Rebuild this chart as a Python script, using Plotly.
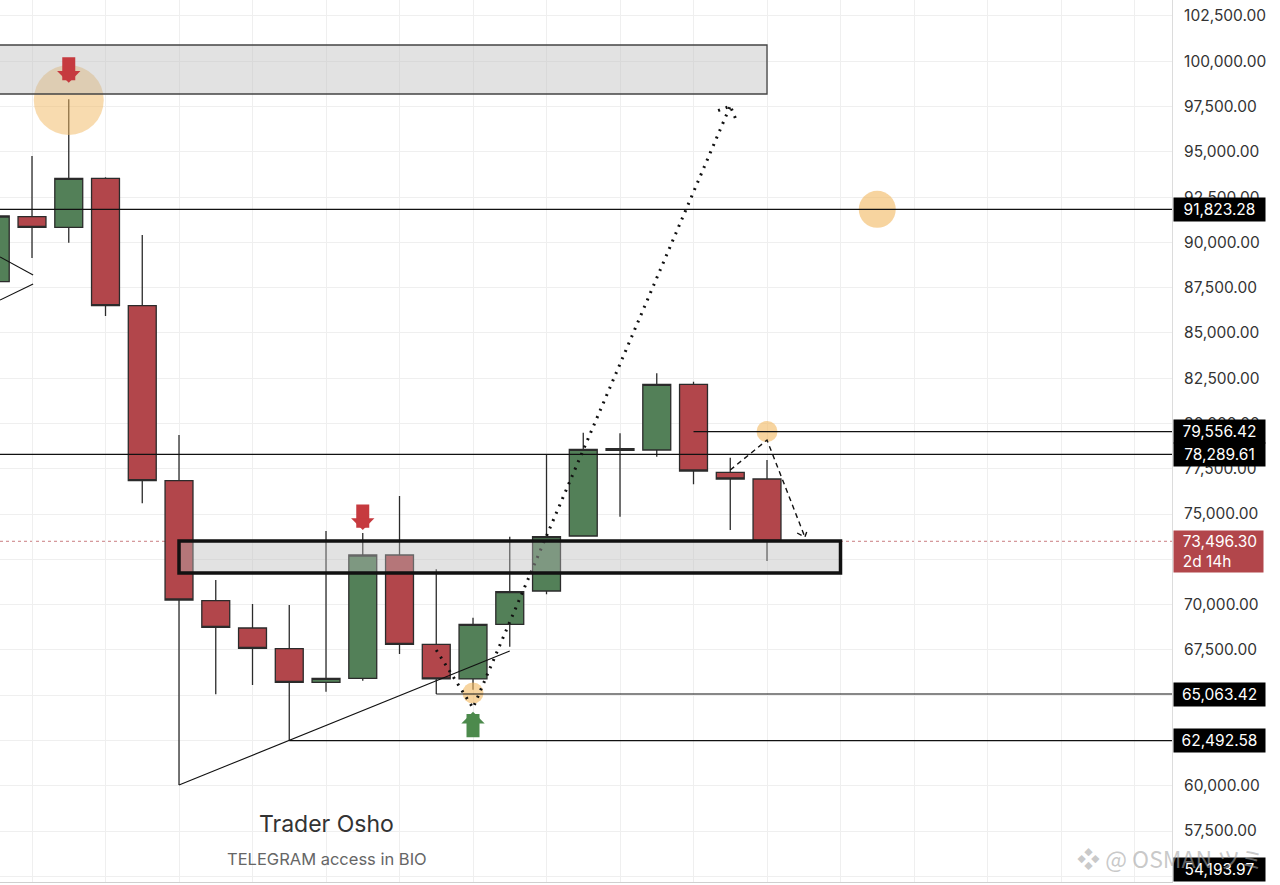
import pandas as pd
import plotly.graph_objects as go


# weekly candles (week start dates)
week_start = [
    "2025-12-29", "2026-01-05", "2026-01-12", "2026-01-19", "2026-01-26",
    "2026-02-02", "2026-02-09", "2026-02-16", "2026-02-23", "2026-03-02",
    "2026-03-09", "2026-03-16", "2026-03-23", "2026-03-30", "2026-04-06",
    "2026-04-13", "2026-04-20", "2026-04-27", "2026-05-04", "2026-05-11",
    "2026-05-18", "2026-05-25",
]
opens = [87829, 91418, 90833, 93538, 86504, 76841, 70216, 68708, 67566, 65710, 65931,
         72739, 67808, 65896, 68913, 70751, 73788, 78610, 78537, 82164, 77305, 76935]
highs = [91700, 94770, 97900, 93600, 90408, 79365, 71359, 70034, 69978, 74064, 73954,
         75997, 71949, 69277, 73750, 78299, 79492, 79458, 82771, 82307, 78111, 77985]
lows = [87600, 89138, 89983, 85935, 75593, 60040, 65047, 65561, 62492.58, 65191, 65799,
        67273, 65063.42, 65300, 67676, 70569, 73780, 74854, 78167, 76642, 74119, 72408]
closes = [91457, 90833, 93538, 86504, 76841, 70254, 68747, 67587, 65710, 65931, 72739,
          67808, 65896, 68913, 70713, 73750, 78575, 78520, 82164, 77377, 76935, 73496.30]

# marked price levels: (price, first week offset of the line or None for full width)
level_prices = [91823.28, 79556.42, 78289.61, 65063.42, 62492.58]
level_start_weeks = [None, 19, None, 12, 8]
last_price = 73496.30
last_price_note = "2d 14h"
bottom_price = 54193.97

# supply zone (top) and demand zone (middle)
top_zone_weeks = [-1, 21]
top_zone_prices = [98193, 100899]
mid_zone_weeks = [5, 23]
mid_zone_prices = [71745, 73512]

# trend / wedge lines: week offsets and prices
trend_weeks = [5, 14]
trend_prices = [60040, 67438]
wedge_a_weeks = [0.13, 1.03]
wedge_a_prices = [89193, 88199]
wedge_b_weeks = [0.13, 1.03]
wedge_b_prices = [86819, 87702]

# projected paths
dotted_weeks = [12, 13, 20]
dotted_prices = [67494, 64291, 97531]
dotted_head_weeks = [19.67, 20, 20.18]
dotted_head_prices = [97271, 97531, 96664]
dashed_weeks = [20, 21, 22.03]
dashed_prices = [77432, 79087, 73733]
dashed_head_weeks = [21.82, 22.03, 22.09]
dashed_head_prices = [73954, 73733, 74064]

# highlight circles
circle_weeks = [2, 24, 21, 13]
circle_prices = [97862, 91823, 79556, 65119]
circle_sizes = [70, 37, 21, 21]
circle_alphas = [0.5, 0.6, 0.6, 0.6]

# signal arrows: week, tip price, direction
arrow_weeks = [2, 10, 13]
arrow_prices = [98817, 74119, 64087]
arrow_dirs = ["down", "down", "up"]

WEEK = pd.Timedelta(days=7)
T0 = pd.Timestamp(week_start[0])

RED = "#b2464b"
GREEN = "#538058"
EDGE = "#2b2b2b"
FONT = "Inter"
AXIS_SIZE = 15.5


def wk(offset: float) -> pd.Timestamp:
    return T0 + WEEK * offset


def main() -> None:
    x_start = wk(0.129)
    x_end = wk(32.02)

    fig = go.Figure()
    fig.add_trace(
        go.Candlestick(
            x=week_start,
            open=opens,
            high=highs,
            low=lows,
            close=closes,
            increasing={"fillcolor": GREEN, "line": {"color": EDGE, "width": 1.3}},
            decreasing={"fillcolor": RED, "line": {"color": EDGE, "width": 1.3}},
            whiskerwidth=0,
            showlegend=False,
        )
    )

    # highlight circles
    for w, p, s, a in zip(circle_weeks, circle_prices, circle_sizes, circle_alphas):
        fig.add_trace(
            go.Scatter(
                x=[wk(w)], y=[p], mode="markers", showlegend=False, hoverinfo="skip",
                marker={"size": s, "color": f"rgba(242,183,95,{a})", "line": {"width": 0}},
            )
        )

    # dotted projection
    for xs, ys in ((dotted_weeks, dotted_prices), (dotted_head_weeks, dotted_head_prices)):
        fig.add_trace(
            go.Scatter(
                x=[wk(w) for w in xs], y=ys, mode="lines", showlegend=False, hoverinfo="skip",
                line={"color": "#111111", "width": 3, "dash": "2px,6px"},
            )
        )
    # dashed projection
    for xs, ys in ((dashed_weeks, dashed_prices), (dashed_head_weeks, dashed_head_prices)):
        fig.add_trace(
            go.Scatter(
                x=[wk(w) for w in xs], y=ys, mode="lines", showlegend=False, hoverinfo="skip",
                line={"color": "#111111", "width": 1.4, "dash": "5px,4px"},
            )
        )

    shapes = []
    # current price dotted line
    shapes.append(dict(
        type="line", xref="x", yref="y", x0=x_start, x1=x_end, y0=last_price, y1=last_price,
        line={"color": "rgba(178,70,75,0.7)", "width": 1, "dash": "dot"}, layer="below",
    ))
    shapes.append(dict(
        type="rect", xref="x", yref="y",
        x0=wk(top_zone_weeks[0]), x1=wk(top_zone_weeks[1]),
        y0=top_zone_prices[0], y1=top_zone_prices[1],
        fillcolor="rgba(185,185,185,0.42)", line={"color": "#444444", "width": 1.3},
    ))
    shapes.append(dict(
        type="rect", xref="x", yref="y",
        x0=wk(mid_zone_weeks[0]), x1=wk(mid_zone_weeks[1]),
        y0=mid_zone_prices[0], y1=mid_zone_prices[1],
        fillcolor="rgba(185,185,185,0.42)", line={"color": "#111111", "width": 3.5},
    ))
    for price, start in zip(level_prices, level_start_weeks):
        x0 = x_start if start is None else wk(start)
        shapes.append(dict(
            type="line", xref="x", yref="y", x0=x0, x1=x_end, y0=price, y1=price,
            line={"color": "#111111", "width": 1.2},
        ))
    for xs, ys in ((trend_weeks, trend_prices), (wedge_a_weeks, wedge_a_prices),
                   (wedge_b_weeks, wedge_b_prices)):
        shapes.append(dict(
            type="line", xref="x", yref="y", x0=wk(xs[0]), x1=wk(xs[1]), y0=ys[0], y1=ys[1],
            line={"color": "#111111", "width": 1.1},
        ))

    annotations = []
    # signal arrows
    for w, p, d in zip(arrow_weeks, arrow_prices, arrow_dirs):
        annotations.append(dict(
            x=wk(w), y=p, xref="x", yref="y", text="", showarrow=True,
            ax=0, ay=-27 if d == "down" else 27,
            arrowhead=1, arrowsize=0.3, arrowwidth=13, standoff=0,
            arrowcolor="#c63a3f" if d == "down" else "#4c8a4c",
        ))

    # price labels on the axis
    label_font = {"family": FONT, "size": AXIS_SIZE, "color": "#ffffff"}
    for price in level_prices:
        annotations.append(dict(
            x=1, xref="paper", y=price, yref="y", xanchor="left", yanchor="middle", xshift=1,
            text=f"{price:,.2f}", showarrow=False, bgcolor="#000000", font=label_font,
            width=87, borderpad=2, align="center",
        ))
    annotations.append(dict(
        x=1, xref="paper", y=last_price, yref="y", xanchor="left", yanchor="top",
        xshift=1, yshift=11,
        text=f"\u2002{last_price:,.2f}<br>\u2002{last_price_note}", showarrow=False,
        bgcolor=RED, font=label_font, width=87, borderpad=1, align="left",
    ))
    annotations.append(dict(
        x=1, xref="paper", y=0, yref="paper", xanchor="left", yanchor="bottom", xshift=1,
        text=f"{bottom_price:,.2f}", showarrow=False, bgcolor="#000000", font=label_font,
        width=87, borderpad=2, align="center",
    ))

    # texts
    annotations.append(dict(
        x=0.279, y=0.066, xref="paper", yref="paper", xanchor="center", yanchor="middle",
        text="Trader Osho", showarrow=False,
        font={"family": FONT, "size": 23, "color": "#333333"},
    ))
    annotations.append(dict(
        x=0.279, y=0.026, xref="paper", yref="paper", xanchor="center", yanchor="middle",
        text="TELEGRAM access in BIO",
        showarrow=False, font={"family": FONT, "size": 16.5, "color": "#666666"},
    ))
    annotations.append(dict(
        x=0.917, y=0.027, xref="paper", yref="paper", xanchor="left", yanchor="middle",
        text="❖ @ OSMAN ツミ", showarrow=False,
        font={"family": "Noto Sans CJK JP", "size": 23, "color": "rgba(165,165,165,0.6)"},
    ))

    fig.update_layout(
        width=1280,
        height=885,
        margin={"l": 0, "r": 108, "t": 0, "b": 3},
        paper_bgcolor="#ffffff",
        plot_bgcolor="#ffffff",
        boxgap=0.24,
        boxgroupgap=0,
        showlegend=False,
        shapes=shapes,
        annotations=annotations,
        font={"family": FONT},
        xaxis={
            "type": "date",
            "range": [x_start, x_end],
            "rangeslider": {"visible": False},
            "showticklabels": False,
            "showgrid": True,
            "gridcolor": "#efefef",
            "tick0": week_start[1],
            "dtick": 14 * 86400000,
            "showline": True,
            "linecolor": "#cfcfcf",
            "zeroline": False,
        },
        yaxis={
            "side": "right",
            "range": [54684, 103383],
            "tick0": 0,
            "dtick": 2500,
            "tickformat": ",.2f",
            "tickfont": {"family": FONT, "size": AXIS_SIZE, "color": "#333333"},
            "ticklabelstandoff": 8,
            "showgrid": True,
            "gridcolor": "#efefef",
            "showline": True,
            "linecolor": "#dcdcdc",
            "zeroline": False,
        },
    )
    # drop the browser's default page margin so the figure sits at the window corner
    fig.write_html(
        "out.html",
        config={"displayModeBar": False},
        post_script="document.body.style.margin = '0';",
    )


if __name__ == "__main__":
    main()
